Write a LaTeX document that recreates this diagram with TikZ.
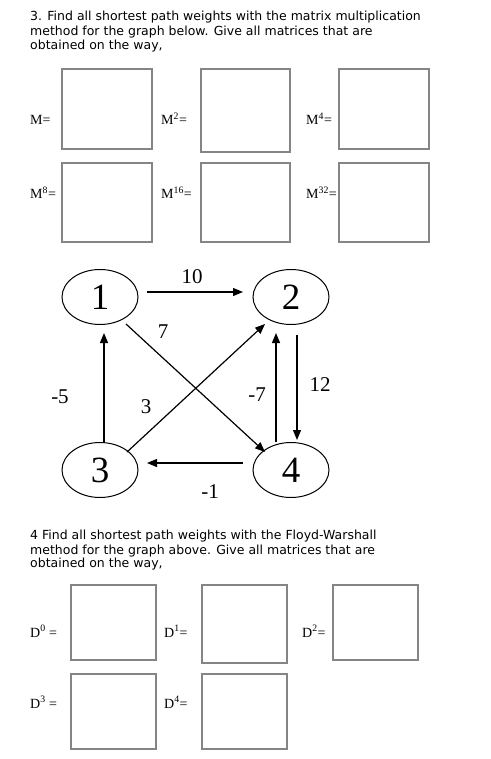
\documentclass[tikz,border=0pt]{standalone}
\usepackage{fontspec}
\setmainfont{Liberation Serif}
\newfontfamily\verd{DejaVu Sans}
\usetikzlibrary{shapes.geometric,arrows.meta}
\tikzset{
  para/.style={anchor=base west,inner sep=0pt,font=\verd\fontsize{12.5}{14}\selectfont},
  mlab/.style={anchor=base west,inner sep=0pt,font=\fontsize{14}{16}\selectfont},
  box/.style={draw=black!48,line width=1.1pt},
  vert/.style={ellipse,draw,line width=1pt,minimum width=76pt,minimum height=55pt,inner sep=0pt,font=\fontsize{37}{40}\selectfont},
  elab/.style={inner sep=0pt,font=\fontsize{21}{24}\selectfont},
  arr/.style={line width=1.2pt,-{Triangle[length=10pt,width=8pt]}}
}
\begin{document}
\begin{tikzpicture}[x=1pt,y=-1pt]
\useasboundingbox (0,0) rectangle (490,759);
% question 3
\node[para] (t1) at (30,21) {3. Find all shortest path weights with the matrix multiplication};
\node[para] (t2) at (30,35.5) {method for the graph below. Give all matrices that are};
\node[para] (t3) at (30,49.5) {obtained on the way,};
% M matrices
\draw[box] (62,69) rectangle (152,149);
\draw[box] (201,69) rectangle (290,152);
\draw[box] (339,69) rectangle (429,149);
\draw[box] (62,163) rectangle (152,242);
\draw[box] (201,163) rectangle (290,242);
\draw[box] (339,163) rectangle (429,242);
\node[mlab] (m1) at (30,125) {M=};
\node[mlab] (m2) at (161,125) {M\textsuperscript{2}=};
\node[mlab] (m4) at (306,125) {M\textsuperscript{4}=};
\node[mlab] (m8) at (30,199) {M\textsuperscript{8}=};
\node[mlab] (m16) at (161,199) {M\textsuperscript{16}=};
\node[mlab] (m32) at (306,199) {M\textsuperscript{32}=};
% graph
\node[vert] (n1) at (100,297) {\raisebox{-4pt}{1}};
\node[vert] (n2) at (291,297) {\raisebox{-7pt}{2}};
\node[vert] (n3) at (100,470) {\raisebox{-3pt}{3}};
\node[vert] (n4) at (291,470) {\raisebox{-1pt}{4}};
\draw[arr] ([shift={(47,-5)}]n1.center) -- ([shift={(-48,-5)}]n2.center);
\draw[arr] ([shift={(26,27)}]n1.center) -- ([shift={(-26,-18)}]n4.center);
\draw[arr] ([shift={(4,-28)}]n3.center) -- ([shift={(4,36)}]n1.center);
\draw[arr] ([shift={(27,-18)}]n3.center) -- ([shift={(-26,27)}]n2.center);
\draw[arr] ([shift={(-15,-28)}]n4.center) -- ([shift={(-15,36)}]n2.center);
\draw[arr] ([shift={(6,38)}]n2.center) -- ([shift={(6,-30)}]n4.center);
\draw[arr] ([shift={(-48,-7)}]n4.center) -- ([shift={(47,-7)}]n3.center);
\node[elab] (w12) at (192,277) {10};
\node[elab] (w14) at (163,332) {7};
\node[elab] (w31) at (60,397) {-5};
\node[elab] (w32) at (146,407) {3};
\node[elab] (w42) at (257,395) {-7};
\node[elab] (w24) at (320,385) {12};
\node[elab] (w43) at (210,492) {-1};
% question 4
\node[para] (u1) at (30,539.3) {4 Find all shortest path weights with the Floyd-Warshall};
\node[para] (u2) at (30,554) {method for the graph above. Give all matrices that are};
\node[para] (u3) at (30,567.7) {obtained on the way,};
\draw[box] (71,585) rectangle (156,660);
\draw[box] (202,585) rectangle (287,663);
\draw[box] (333,585) rectangle (418,660);
\draw[box] (71,674) rectangle (156,749);
\draw[box] (202,674) rectangle (287,749);
\node[mlab] (d0) at (30,637) {D\textsuperscript{0} =};
\node[mlab] (d1) at (164,637) {D\textsuperscript{1}=};
\node[mlab] (d2) at (302,637) {D\textsuperscript{2}=};
\node[mlab] (d3) at (30,708) {D\textsuperscript{3} =};
\node[mlab] (d4) at (164,708) {D\textsuperscript{4}=};
\end{tikzpicture}
\end{document}
